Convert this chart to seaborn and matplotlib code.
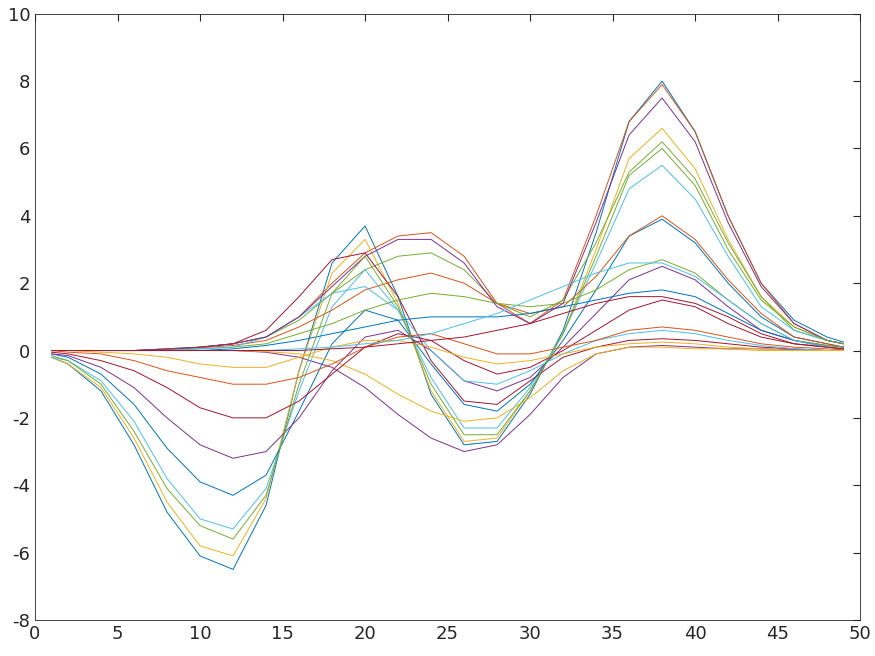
import numpy as np
import pandas as pd
import matplotlib
matplotlib.use("Agg")
import matplotlib.pyplot as plt
import seaborn as sns

# x positions
x_vals = [1, 2, 4, 6, 8, 10, 12, 14, 16, 18, 20, 22, 24, 26, 28, 30, 32, 34, 36, 38, 40, 42, 44, 46, 48, 49]

c1 = [-0.2,-0.4,-1.2,-2.8,-4.8,-6.1,-6.5,-4.6,-0.6,2.6,3.7,1.6,-1.3,-2.8,-2.7,-1.3,0.6,3.5,6.8,8.0,6.5,4.0,2.0,0.9,0.4,0.25]
c2 = [-0.2,-0.4,-1.1,-2.6,-4.5,-5.8,-6.1,-4.4,-0.6,2.3,3.3,1.4,-1.2,-2.7,-2.6,-1.2,0.5,3.0,5.7,6.6,5.4,3.3,1.6,0.7,0.3,0.2]
c3 = [-0.2,-0.3,-0.9,-2.1,-3.8,-5.0,-5.3,-4.1,-1.2,1.3,2.4,1.2,-0.8,-2.3,-2.3,-1.1,0.5,2.6,4.8,5.5,4.5,2.8,1.3,0.6,0.3,0.2]
c4 = [-0.1,-0.2,-0.7,-1.6,-2.9,-3.9,-4.3,-3.7,-1.8,0.2,1.2,0.9,-0.4,-1.6,-1.8,-1.0,0.3,1.8,3.4,3.9,3.2,2.0,1.0,0.4,0.2,0.1]
c5 = [-0.1,-0.15,-0.5,-1.1,-2.0,-2.8,-3.2,-3.0,-2.0,-0.6,0.4,0.6,0.0,-0.9,-1.2,-0.8,0.1,1.1,2.1,2.5,2.1,1.3,0.6,0.3,0.15,0.1]
c6 = [-0.05,-0.1,-0.3,-0.6,-1.1,-1.7,-2.0,-2.0,-1.5,-0.7,0.1,0.5,0.3,-0.3,-0.7,-0.5,0.0,0.6,1.2,1.5,1.3,0.8,0.4,0.2,0.1,0.05]
c7 = [0,-0.05,-0.1,-0.3,-0.6,-0.8,-1.0,-1.0,-0.8,-0.4,0.1,0.4,0.5,0.2,-0.1,-0.1,0.1,0.3,0.6,0.7,0.6,0.4,0.2,0.1,0.05,0.02]
c8 = [0,0,0,0,0.05,0.1,0.2,0.4,1.0,2.0,2.9,3.4,3.5,2.8,1.4,0.8,1.5,4.0,6.8,7.9,6.5,4.0,2.0,0.8,0.3,0.2]
c9 = [0,0,0,0,0.05,0.1,0.2,0.4,0.9,1.7,2.4,2.8,2.9,2.4,1.4,1.0,1.5,3.2,5.3,6.2,5.1,3.2,1.6,0.6,0.3,0.2]
c10 = [0,0,0,0,0.03,0.08,0.15,0.3,0.7,1.2,1.8,2.1,2.3,2.0,1.4,1.1,1.3,2.2,3.4,4.0,3.3,2.1,1.1,0.4,0.2,0.1]
c11 = [0,0,0,0,0,0.05,0.1,0.2,0.5,0.8,1.2,1.5,1.7,1.6,1.4,1.3,1.4,1.8,2.4,2.7,2.3,1.5,0.8,0.3,0.15,0.1]
c12 = [0,0,0,0,0,0,0.05,0.15,0.3,0.5,0.7,0.9,1.0,1.0,1.0,1.1,1.3,1.5,1.7,1.8,1.6,1.1,0.6,0.3,0.1,0.05]
c13 = [0,0,0,0,0,0,0,-0.05,-0.2,-0.5,-1.1,-1.9,-2.6,-3.0,-2.8,-1.9,-0.8,-0.1,0.1,0.15,0.1,0.05,0.05,0.02,0,0]
c14 = [0,0,0,0,0,0,0,-0.03,-0.1,-0.3,-0.7,-1.3,-1.8,-2.1,-2.0,-1.4,-0.6,-0.1,0.1,0.1,0.05,0.05,0,0,0,0]
c15 = [0,0,0,0,0.02,0.1,0.2,0.6,1.6,2.7,2.9,1.6,-0.3,-1.5,-1.6,-0.9,-0.2,0.1,0.3,0.35,0.3,0.2,0.1,0.05,0,0]
c16 = [0,0,0,0,0,0.05,0.1,0.4,1.0,1.7,1.9,1.2,0.0,-0.9,-1.0,-0.6,-0.1,0.3,0.5,0.6,0.5,0.3,0.15,0.05,0,0]
c17 = [0,0,-0.05,-0.1,-0.2,-0.4,-0.5,-0.5,-0.2,0.1,0.3,0.3,0.1,-0.2,-0.4,-0.3,-0.1,0.1,0.2,0.25,0.2,0.1,0.05,0,0,0]
c18 = [0,0,0,0,0.05,0.1,0.2,0.4,1.0,1.9,2.8,3.3,3.3,2.6,1.3,0.8,1.4,3.8,6.4,7.5,6.2,3.8,1.9,0.8,0.3,0.2]
c19 = [-0.15,-0.3,-1.0,-2.4,-4.1,-5.2,-5.6,-4.3,-1.0,1.7,2.8,1.3,-1.0,-2.5,-2.5,-1.2,0.5,2.8,5.2,6.0,4.9,3.0,1.5,0.7,0.3,0.2]
c20 = [0,0,0,0,0,0,0,0,0.05,0.1,0.2,0.3,0.5,0.8,1.1,1.5,1.9,2.3,2.6,2.6,2.2,1.5,0.8,0.3,0.1,0.05]
c21 = [0,0,0,0,0,0,0,0,0,0.05,0.1,0.2,0.3,0.4,0.6,0.8,1.1,1.4,1.6,1.6,1.4,1.0,0.5,0.2,0.1,0.05]

curves = [c1, c8, c2, c13, c9, c3, c15, c4, c10, c14, c5, c11, c16, c6, c12, c7, c17, c18, c19, c20, c21]

# matlab default colour order
matlab_colors = ["#0072BD", "#D95319", "#EDB120", "#7E2F8E", "#77AC30", "#4DBEEE", "#A2142F"]

sns.set_style("white")
plt.rcParams["axes.unicode_minus"] = False
fig = plt.figure(figsize=(8.75, 6.56), dpi=100)
ax = fig.add_axes([0.04, 0.055, 0.943, 0.924])

for i, c in enumerate(curves):
    df = pd.DataFrame({"x": x_vals, "y": c})
    sns.lineplot(data=df, x="x", y="y", color=matlab_colors[i % 7], linewidth=0.7, ax=ax)

ax.set_xlim(0, 50)
ax.set_ylim(-8, 10)
ax.set_xticks(range(0, 51, 5))
ax.set_yticks(range(-8, 11, 2))
ax.set_xlabel("")
ax.set_ylabel("")
ax.tick_params(direction="in", length=5, labelsize=13, colors="#262626", top=True, right=True)
for s in ax.spines.values():
    s.set_color("#262626")
    s.set_linewidth(0.6)

fig.savefig("out.png", dpi=100)
